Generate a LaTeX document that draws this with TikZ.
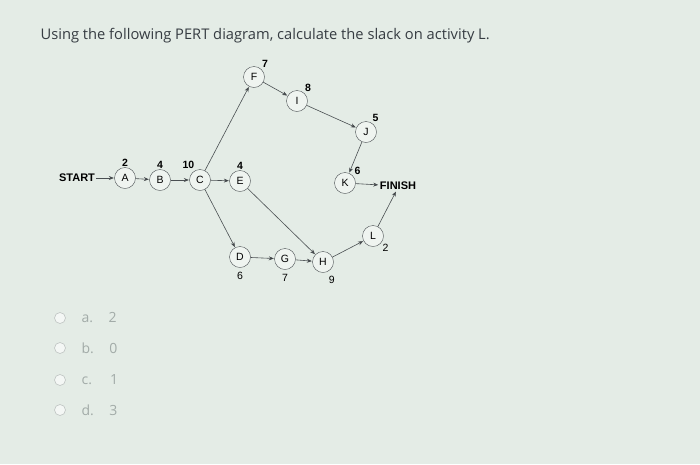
\documentclass[tikz,border=0pt]{standalone}
\usepackage{fontspec}
\setmainfont{Liberation Sans}
\newfontfamily\qfont{Open Sans}
\usepackage{tikz}
\usetikzlibrary{arrows,arrows.meta,positioning}
\definecolor{bgcol}{HTML}{E4ECE6}
\definecolor{qtext}{HTML}{363C42}
\definecolor{opttext}{HTML}{A2ABA8}
\definecolor{edgecol}{HTML}{4A4F52}
\tikzstyle{act}=[circle,draw=edgecol,thin,fill=bgcol!60!white,minimum size=21pt,inner sep=0pt,font=\fontsize{10.5}{11}\selectfont]
\tikzstyle{post}=[-{Stealth[length=5pt,width=4pt]},shorten >=0.5pt]

\begin{document}
\begin{tikzpicture}[
        x=1pt,y=-1pt,
        semithick,
        dur/.style={font=\bfseries\fontsize{10.5}{11}\selectfont,inner sep=1pt},
        durlow/.style={font=\fontsize{10.5}{11}\selectfont,inner sep=1pt,label distance=3pt},
        endpt/.style={font=\bfseries\fontsize{11}{12}\selectfont,inner sep=1pt},
        radio/.style={circle,draw=opttext!70,fill=white!60!bgcol,minimum size=11pt,inner sep=0pt},
        opt/.style={anchor=west,text=opttext,font=\qfont\fontsize{14}{15}\selectfont}
        ]
        \fill[bgcol] (0,0) rectangle (700,464);
        \useasboundingbox (0,0) rectangle (700,464);
        \node[anchor=west,text=qtext,font=\qfont\fontsize{14.7}{16}\selectfont](q) at (37,36) {Using the following PERT diagram, calculate the slack on activity L.};
        % network
        \node[endpt](start) at (77,178) {START};
        \node[act,label={[dur]above:2}](A) at (125,178) {A};
        \node[act,label={[dur]above:4}](B) at (160,180) {B};
        \node[act,label={[dur]115:10}](C) at (200,180) {C};
        \node[act,label={[dur]above:4}](E) at (240,181) {E};
        \node[act,label={[dur]50:7}](F) at (254,77) {F};
        \node[act,label={[dur]50:8}](I) at (297,101) {I};
        \node[act,label={[dur]60:5}](J) at (366,132) {J};
        \node[act,label={[dur]40:6}](K) at (345,183) {K};
        \node[endpt](finish) at (398,186) {FINISH};
        \node[act,label={[durlow,label distance=0pt]-40:2}](L) at (373,236) {L};
        \node[act,label={[durlow]below:6}](D) at (240,257) {D};
        \node[act,label={[durlow]below:7}](G) at (285,259) {G};
        \node[act,label={[durlow]-70:9}](H) at (323,262) {H};
        \path[post,draw=edgecol]
        (start) edge (A)
        (A) edge (B)
        (B) edge (C)
        (C) edge (E)
        (C) edge (F)
        (C) edge (D)
        (E) edge (H)
        (F) edge (I)
        (I) edge (J)
        (J) edge (K)
        (K) edge (finish)
        (L) edge (finish.250)
        (D) edge (G)
        (G) edge (H)
        (H) edge (L)
        ;
        % answers
        \node[radio](ra) at (60,318) {};
        \node[opt](ta) at (78,318) {a.\hspace{1.1em}2};
        \node[radio](rb) at (60,348) {};
        \node[opt](tb) at (78,348) {b.\hspace{1.1em}0};
        \node[radio](rc) at (60,380) {};
        \node[opt](tc) at (78,380) {c.\hspace{1.3em}1};
        \node[radio](rd) at (60,410) {};
        \node[opt](td) at (78,410) {d.\hspace{1.1em}3};
    \end{tikzpicture}
\end{document}
